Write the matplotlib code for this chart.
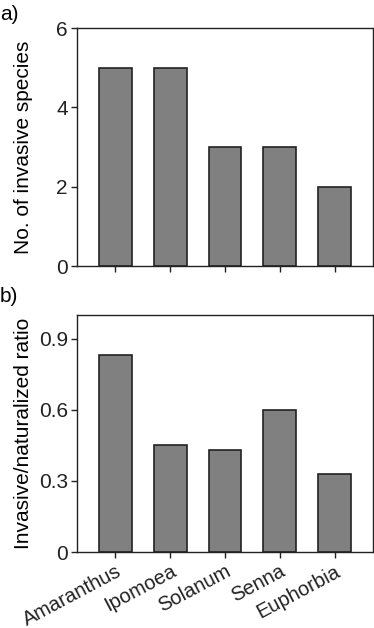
import matplotlib.pyplot as plt
import numpy as np

plt.rcParams['font.family'] = ['Liberation Sans', 'DejaVu Sans']

genera = ["Amaranthus", "Ipomoea", "Solanum", "Senna", "Euphorbia"]
n_invasive = [5, 5, 3, 3, 2]
ratio = [0.83, 0.45, 0.43, 0.60, 0.33]

BAR_COLOR = "#808080"
EDGE_COLOR = "#222222"

fig = plt.figure(figsize=(3.74, 6.28), dpi=100)
W, H = 374, 628
ax1 = fig.add_axes([77 / W, 1 - 266 / H, 296 / W, 238 / H])
ax2 = fig.add_axes([77 / W, 1 - 552 / H, 296 / W, 237 / H])

x = np.arange(len(genera))

for ax in (ax1, ax2):
    for s in ax.spines.values():
        s.set_linewidth(1.0)
        s.set_color("#222222")
    ax.tick_params(direction="out", length=4, width=1, labelsize=15, pad=2.5, colors="#222222")
    ax.set_xlim(-0.7, 4.7)
    ax.set_xticks(x)

ax1.bar(x, n_invasive, width=0.6, color=BAR_COLOR, edgecolor=EDGE_COLOR, linewidth=1.2)
ax1.set_ylim(0, 6)
ax1.set_yticks([0, 2, 4, 6])
ax1.set_xticklabels([])
ax1.set_ylabel("No. of invasive species", fontsize=15)
ax1.yaxis.set_label_coords(-0.15, 0.5)

ax2.bar(x, ratio, width=0.6, color=BAR_COLOR, edgecolor=EDGE_COLOR, linewidth=1.2)
ax2.set_ylim(0, 1.0)
ax2.set_yticks([0, 0.3, 0.6, 0.9])
ax2.set_yticklabels(["0", "0.3", "0.6", "0.9"])
ax2.set_xticklabels(genera, rotation=28, ha="right", rotation_mode="anchor", fontsize=14.5)
ax2.tick_params(axis="x", pad=3)
ax2.set_ylabel("Invasive/naturalized ratio", fontsize=15)
ax2.yaxis.set_label_coords(-0.15, 0.5)

fig.text(0.0, 1 - 14 / H, "a)", fontsize=15, va="center", ha="left")
fig.text(0.0, 1 - 297 / H, "b)", fontsize=15, va="center", ha="left")

fig.savefig("out.png", dpi=100)
